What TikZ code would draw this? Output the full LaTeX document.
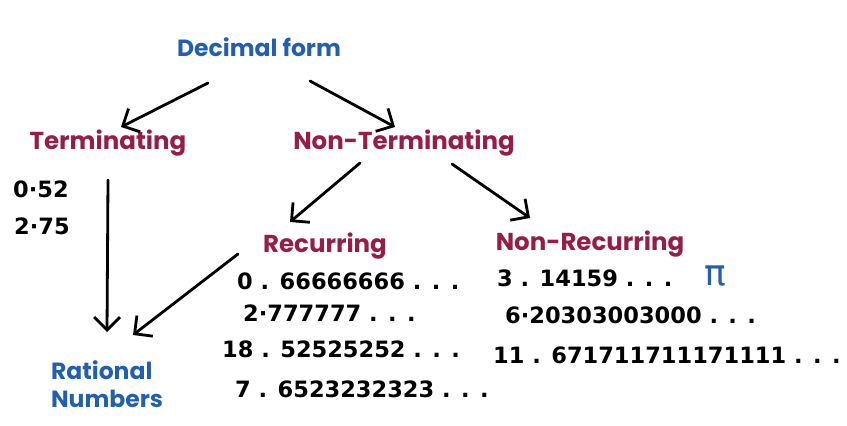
\documentclass[tikz,border=0pt]{standalone}
\usepackage{fontspec}
\setmainfont{Poppins}
\newfontfamily\greekfont{DejaVu Sans}
\newfontfamily\digitfont{DejaVu Sans}
\usetikzlibrary{arrows.meta,positioning}
\definecolor{inkblue}{RGB}{35,95,175}
\definecolor{inkred}{RGB}{150,30,70}
\tikzstyle{blueword} = [text=inkblue, font=\bfseries\fontsize{23.5}{28}\selectfont,
   inner sep=0pt, align=left]
\tikzstyle{redword} = [text=inkred, font=\bfseries\fontsize{24.5}{28}\selectfont, inner sep=0pt]
\tikzstyle{number} = [text=black, font=\digitfont\bfseries\fontsize{22.5}{26}\selectfont,
   inner sep=0pt, anchor=west]
\tikzstyle{line} = [draw, line width=2.8pt, line cap=round,
   -{Straight Barb[length=13pt,width=26pt]}]

\begin{document}
\begin{tikzpicture}[x=1pt, y=-1pt]
\useasboundingbox (0,0) rectangle (847,426);
% Place nodes
\node [blueword] (dec) at (259,47) {Decimal form};
\node [redword] (term) at (108,143) {Terminating};
\node [redword] (nonterm) at (404,143) {Non-Terminating};
\node [number, anchor=center] (t1) at (41,189) {0·52};
\node [number, anchor=center] (t2) at (42,226) {2·75};
\node [redword] (rec) at (325,246) {Recurring};
\node [redword] (nonrec) at (590,244) {Non-Recurring};
\node [number] (r1) at (237,281) {0 . 66666666 . . .};
\node [number] (r2) at (243,313) {2·777777 . . .};
\node [number] (r3) at (222,349) {18 . 52525252 . . .};
\node [number] (r4) at (235,389) {7 . 6523232323 . . .};
\node [number] (n1) at (497,278) {3 . 14159 . . .};
\node [text=inkblue, font=\greekfont\fontsize{36}{38}\selectfont, inner sep=0pt] (pi) at (715,276) {π};
\node [number] (n2) at (505,315) {6·20303003000 . . .};
\node [number] (n3) at (493,355) {11 . 671711711171111 . . .};
\node [blueword] (rat) at (107,384) {Rational\\Numbers};
% Draw edges
\path [line] ([shift={(-51,36)}]dec.center) -- ([shift={(13,-16)}]term.center);
\path [line] ([shift={(51,34)}]dec.center) -- ([shift={(-9,-16)}]nonterm.center);
\path [line] ([shift={(-44,20)}]nonterm.center) -- ([shift={(-35,-24)}]rec.center);
\path [line] ([shift={(48,21)}]nonterm.center) -- ([shift={(-60,-26)}]nonrec.center);
\path [line] ([shift={(0,37)}]term.center) -- ([shift={(0,-52)}]rat.center);
\path [line] ([shift={(-87,8)}]rec.center) -- ([shift={(26,-49)}]rat.center);
\end{tikzpicture}
\end{document}
